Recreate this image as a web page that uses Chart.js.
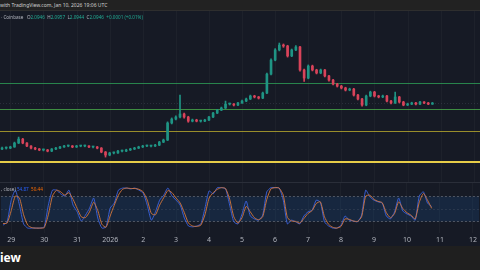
<!DOCTYPE html>
<html>
<head>
<meta charset="utf-8">
<script src="https://cdn.jsdelivr.net/npm/chart.js@4.4.1/dist/chart.umd.min.js"></script>
<style>
  html, body { margin: 0; padding: 0; width: 480px; height: 270px; overflow: hidden; background: #161a25; font-family: 'Noto Sans', sans-serif; }
  #top { position: absolute; left: 0; top: 0; width: 480px; height: 10px; background: #222222; border-bottom: 1px solid #2e2e2e; color: #cfcfcf; font-size: 5px; line-height: 10px; white-space: nowrap; }
  #bottom { position: absolute; left: 0; top: 246px; width: 480px; height: 24px; background: #1f1f1f; color: #ffffff; font-weight: bold; font-size: 12px; line-height: 24px; }
  #main { position: absolute; left: 0; top: 11px; }
  #stoch { position: absolute; left: 0; top: 183px; }
  #sep { position: absolute; left: 0; top: 182px; width: 480px; height: 1px; background: #2a2e39; }
  .legend { position: absolute; left: 1px; font-size: 4.6px; white-space: nowrap; color: #b2b5be; }
  .val { color: #22ab94; }
</style>
</head>
<body>
<div id="top">with TradingView.com, Jan 10, 2026 19:06 UTC</div>
<canvas id="main" width="480" height="171"></canvas>
<div id="sep"></div>
<canvas id="stoch" width="480" height="63"></canvas>
<div class="legend" style="top:14px">· Coinbase &nbsp; O<span class="val">2.0946</span> &nbsp;H<span class="val">2.0957</span> &nbsp;L<span class="val">2.0944</span> &nbsp;C<span class="val">2.0946</span> &nbsp;<span class="val">+0.0001 (+0.01%)</span></div>
<div class="legend" style="top:186px">, close) <span style="color:#2962ff">54.87</span> &nbsp;<span style="color:#ff6d00">50.44</span></div>
<div id="bottom">iew</div>
<script>
// 3-hour candles, Dec 28 18:00 -> Jan 10 18:00 (UTC)
const dayLabels = ['29', '30', '31', '2026', '2', '3', '4', '5', '6', '7', '8', '9', '10', '11', '12'];

const opens = [
  1.849, 1.854, 1.854, 1.860, 1.881, 1.902, 1.881, 1.865, 1.854, 1.849,
  1.844, 1.844, 1.838, 1.849, 1.854, 1.860, 1.865, 1.865, 1.860, 1.865,
  1.865, 1.865, 1.860, 1.860, 1.854, 1.833, 1.817, 1.828, 1.828, 1.838,
  1.838, 1.844, 1.849, 1.854, 1.860, 1.865, 1.865, 1.865, 1.870, 1.886,
  1.897, 1.988, 2.009, 2.020, 2.036, 2.020, 1.998, 2.004, 1.998, 1.998,
  2.004, 2.020, 2.041, 2.057, 2.068, 2.089, 2.089, 2.084, 2.095, 2.105,
  2.116, 2.132, 2.127, 2.121, 2.148, 2.249, 2.324, 2.378, 2.404, 2.399,
  2.346, 2.378, 2.394, 2.271, 2.228, 2.292, 2.271, 2.255, 2.271, 2.239,
  2.217, 2.196, 2.185, 2.175, 2.164, 2.169, 2.137, 2.116, 2.084, 2.132,
  2.153, 2.132, 2.127, 2.132, 2.105, 2.095, 2.127, 2.100, 2.084, 2.089,
  2.095, 2.089, 2.100, 2.095, 2.089
];
const closes = [
  1.854, 1.854, 1.860, 1.881, 1.902, 1.881, 1.865, 1.854, 1.849, 1.844,
  1.844, 1.838, 1.849, 1.854, 1.860, 1.865, 1.865, 1.860, 1.865, 1.865,
  1.865, 1.860, 1.860, 1.854, 1.833, 1.817, 1.828, 1.828, 1.838, 1.838,
  1.844, 1.849, 1.854, 1.860, 1.865, 1.865, 1.865, 1.870, 1.886, 1.897,
  1.988, 2.009, 2.020, 2.036, 2.020, 1.998, 2.004, 1.998, 1.998, 2.004,
  2.020, 2.041, 2.057, 2.068, 2.089, 2.089, 2.084, 2.095, 2.105, 2.116,
  2.132, 2.127, 2.121, 2.148, 2.249, 2.324, 2.378, 2.404, 2.399, 2.346,
  2.378, 2.394, 2.271, 2.228, 2.292, 2.271, 2.255, 2.271, 2.239, 2.217,
  2.196, 2.185, 2.175, 2.164, 2.169, 2.137, 2.116, 2.084, 2.132, 2.153,
  2.132, 2.127, 2.132, 2.105, 2.095, 2.127, 2.100, 2.084, 2.089, 2.095,
  2.089, 2.100, 2.095, 2.089, 2.0946
];
const highs = [
  1.859, 1.860, 1.864, 1.886, 1.913, 1.906, 1.884, 1.868, 1.858, 1.852,
  1.849, 1.847, 1.852, 1.858, 1.863, 1.869, 1.870, 1.868, 1.869, 1.869,
  1.870, 1.867, 1.864, 1.863, 1.857, 1.836, 1.832, 1.833, 1.842, 1.843,
  1.848, 1.853, 1.858, 1.864, 1.869, 1.870, 1.869, 1.874, 1.890, 1.902,
  1.994, 2.015, 2.026, 2.137, 2.041, 2.024, 2.009, 2.008, 2.003, 2.008,
  2.024, 2.045, 2.061, 2.073, 2.105, 2.094, 2.092, 2.099, 2.110, 2.121,
  2.137, 2.136, 2.130, 2.153, 2.255, 2.330, 2.385, 2.415, 2.410, 2.403,
  2.383, 2.402, 2.398, 2.276, 2.298, 2.297, 2.275, 2.276, 2.274, 2.243,
  2.221, 2.200, 2.189, 2.179, 2.174, 2.173, 2.141, 2.120, 2.137, 2.158,
  2.157, 2.136, 2.137, 2.136, 2.109, 2.153, 2.130, 2.104, 2.094, 2.099,
  2.098, 2.104, 2.103, 2.098, 2.098
];
const lows = [
  1.845, 1.849, 1.851, 1.858, 1.878, 1.877, 1.861, 1.850, 1.845, 1.840,
  1.839, 1.834, 1.835, 1.846, 1.851, 1.857, 1.861, 1.856, 1.857, 1.861,
  1.861, 1.856, 1.855, 1.850, 1.829, 1.806, 1.813, 1.823, 1.825, 1.834,
  1.835, 1.841, 1.846, 1.851, 1.857, 1.861, 1.860, 1.862, 1.867, 1.883,
  1.894, 1.983, 2.004, 2.015, 2.014, 1.992, 1.994, 1.994, 1.993, 1.995,
  2.001, 2.017, 2.038, 2.054, 2.065, 2.084, 2.079, 2.081, 2.092, 2.102,
  2.113, 2.122, 2.116, 2.118, 2.144, 2.245, 2.320, 2.373, 2.392, 2.340,
  2.342, 2.374, 2.265, 2.210, 2.224, 2.266, 2.250, 2.251, 2.234, 2.212,
  2.191, 2.180, 2.170, 2.159, 2.160, 2.132, 2.111, 2.078, 2.080, 2.128,
  2.127, 2.122, 2.123, 2.100, 2.090, 2.092, 2.095, 2.080, 2.081, 2.086,
  2.085, 2.086, 2.091, 2.086, 2.087
];

// Stoch RSI %K / %D
const stochK = [
  10, 18, 70, 94, 58, 13, 3, 3, 3, 3,
  6, 58, 94, 94, 85, 80, 94, 58, 42, 20,
  34, 51, 75, 27, 3, 6, 51, 63, 94, 99,
  99, 97, 99, 94, 87, 58, 22, 42, 70, 82,
  99, 80, 70, 58, 27, 8, 6, 8, 13, 51,
  92, 85, 100, 100, 97, 58, 18, 13, 37, 68,
  32, 25, 22, 34, 90, 100, 100, 99, 70, 13,
  22, 18, 13, 32, 42, 46, 70, 65, 18, 8,
  3, 3, 10, 32, 22, 20, 18, 34, 94, 78,
  70, 66, 63, 32, 25, 42, 75, 44, 37, 32,
  22, 80, 90, 63, 54.87
];
const stochD = [
  14, 15, 45, 80, 75, 35, 10, 4, 3, 3,
  4, 35, 80, 94, 90, 82, 88, 72, 50, 30,
  28, 42, 65, 45, 12, 5, 32, 58, 82, 96,
  99, 98, 98, 96, 90, 70, 38, 35, 58, 76,
  93, 88, 75, 63, 40, 15, 8, 7, 10, 35,
  75, 88, 96, 100, 98, 72, 30, 15, 28, 55,
  42, 28, 23, 30, 72, 97, 100, 99, 82, 28,
  20, 19, 15, 26, 38, 45, 62, 66, 30, 12,
  5, 3, 7, 25, 24, 20, 19, 30, 80, 82,
  72, 67, 64, 40, 28, 38, 66, 50, 40, 34,
  25, 65, 86, 70, 50.44
];

// horizontal drawings on the price pane
const levels = [2.201, 2.063, 1.945, 1.785];
const levelColors = ['#2fa85a', '#4cb44c', '#c4b42e', '#e6cc48'];
const lastPrice = 2.0946;

const UP = '#1f9484';
const DOWN = '#d8435a';

// category axis: 8 slots per day, extended to the right edge
const labels = [];
for (let i = 0; i < 116; i++) {
  labels.push((i - 2) % 8 === 0 ? dayLabels[(i - 2) / 8] : '');
}

const colors = closes.map((c, i) => c >= opens[i] ? UP : DOWN);
const bodies = closes.map((c, i) => [opens[i], c]);
const wicks = highs.map((h, i) => [lows[i], h]);

const dayGrid = {
  id: 'dayGrid',
  beforeDatasetsDraw(chart) {
    const { ctx, chartArea, scales } = chart;
    ctx.save();
    ctx.strokeStyle = 'rgba(255,255,255,0.03)';
    ctx.lineWidth = 1;
    labels.forEach((l, i) => {
      if (!l) return;
      const x = Math.round(scales.x.getPixelForValue(i)) + 0.5;
      ctx.beginPath();
      ctx.moveTo(x, chartArea.top);
      ctx.lineTo(x, chartArea.bottom);
      ctx.stroke();
    });
    ctx.restore();
  }
};

const levelLines = {
  id: 'levelLines',
  beforeDatasetsDraw(chart) {
    const { ctx, chartArea, scales } = chart;
    ctx.save();
    levels.forEach((v, i) => {
      const y = Math.round(scales.y.getPixelForValue(v));
      ctx.fillStyle = levelColors[i];
      ctx.globalAlpha = i === 3 ? 1 : 0.75;
      ctx.fillRect(chartArea.left, y, chartArea.right - chartArea.left, i === 3 ? 2 : 1);
    });
    ctx.globalAlpha = 1;
    const py = Math.round(scales.y.getPixelForValue(lastPrice)) + 0.5;
    ctx.strokeStyle = 'rgba(130,140,160,0.18)';
    ctx.setLineDash([1, 2]);
    ctx.beginPath();
    ctx.moveTo(chartArea.left, py);
    ctx.lineTo(chartArea.right, py);
    ctx.stroke();
    ctx.restore();
  }
};

new Chart(document.getElementById('main'), {
  type: 'bar',
  data: {
    labels: labels,
    datasets: [
      { data: wicks, backgroundColor: colors, barThickness: 1, grouped: false, order: 2 },
      { data: bodies, backgroundColor: colors, barThickness: 2, minBarLength: 1, grouped: false, order: 1 }
    ]
  },
  options: {
    responsive: false,
    animation: false,
    events: [],
    layout: { padding: 0 },
    plugins: { legend: { display: false }, tooltip: { enabled: false } },
    scales: {
      x: { display: false, offset: true },
      y: { display: false, min: 1.673, max: 2.586 }
    }
  },
  plugins: [dayGrid, levelLines]
});

// Stoch RSI pane
const stochBands = {
  id: 'stochBands',
  beforeDatasetsDraw(chart) {
    const { ctx, chartArea, scales } = chart;
    const y80 = Math.round(scales.y.getPixelForValue(80)) + 0.5;
    const y20 = Math.round(scales.y.getPixelForValue(20)) + 0.5;
    const y50 = Math.round(scales.y.getPixelForValue(50)) + 0.5;
    ctx.save();
    ctx.fillStyle = 'rgba(33,110,200,0.16)';
    ctx.fillRect(chartArea.left, y80, chartArea.right - chartArea.left, y20 - y80);
    ctx.strokeStyle = 'rgba(120,123,134,0.6)';
    ctx.lineWidth = 1;
    ctx.setLineDash([2, 2]);
    [y80, y20].forEach(y => {
      ctx.beginPath();
      ctx.moveTo(chartArea.left, y);
      ctx.lineTo(chartArea.right, y);
      ctx.stroke();
    });
    ctx.strokeStyle = 'rgba(120,123,134,0.2)';
    ctx.beginPath();
    ctx.moveTo(chartArea.left, y50);
    ctx.lineTo(chartArea.right, y50);
    ctx.stroke();
    ctx.restore();
  }
};

new Chart(document.getElementById('stoch'), {
  type: 'line',
  data: {
    labels: labels,
    datasets: [
      { data: stochD, borderColor: 'rgba(214,120,60,0.9)', borderWidth: 1, pointRadius: 0, tension: 0.2 },
      { data: stochK, borderColor: 'rgba(60,100,225,0.9)', borderWidth: 1, pointRadius: 0, tension: 0.2 }
    ]
  },
  options: {
    responsive: false,
    animation: false,
    events: [],
    layout: { padding: 0 },
    plugins: { legend: { display: false }, tooltip: { enabled: false } },
    scales: {
      x: {
        offset: true,
        border: { display: false },
        grid: {
          offset: false,
          drawTicks: false,
          color: ctx => (ctx.tick && ctx.tick.label) ? 'rgba(255,255,255,0.03)' : 'rgba(0,0,0,0)'
        },
        ticks: {
          autoSkip: false,
          maxRotation: 0,
          padding: 3,
          color: '#b2b5be',
          font: { family: 'Noto Sans', size: 7 },
          callback: (v, i) => labels[i]
        },
        afterFit: scale => { scale.height = 13; }
      },
      y: { display: false, min: -8.8, max: 111.2 }
    }
  },
  plugins: [stochBands]
});
</script>
</body>
</html>
